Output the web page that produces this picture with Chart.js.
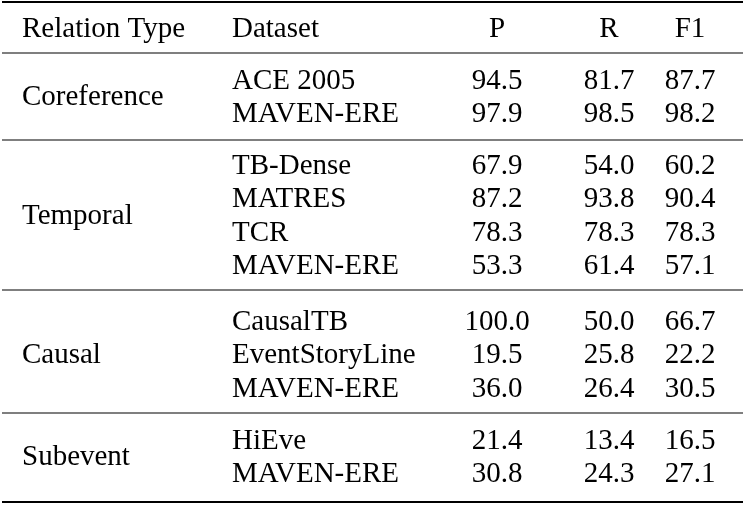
<!DOCTYPE html>
<html><head><meta charset="utf-8">
<script src="https://cdn.jsdelivr.net/npm/chart.js@4"></script>
<style>html,body{margin:0;padding:0;background:#fff}#w{width:745px;height:505px}</style>
</head><body><div id="w"><canvas id="c"></canvas></div>
<script>
const headers = ["Relation Type","Dataset","P","R","F1"];
const groups = ["Coreference","Temporal","Causal","Subevent"];
const groupSizes = [2,4,3,2];
const datasets = ["ACE 2005","MAVEN-ERE","TB-Dense","MATRES","TCR","MAVEN-ERE","CausalTB","EventStoryLine","MAVEN-ERE","HiEve","MAVEN-ERE"];
const P = [94.5,97.9,67.9,87.2,78.3,53.3,100.0,19.5,36.0,21.4,30.8];
const R = [81.7,98.5,54.0,93.8,78.3,61.4,50.0,25.8,26.4,13.4,24.3];
const F1 = [87.7,98.2,60.2,90.4,78.3,57.1,66.7,22.2,30.5,16.5,27.1];

// layout (in scale units, equal to pixels)
const colX = [22,232,497,609,690];
const colAlign = ["left","left","center","center","center"];
const headerY = 28, rowH = 33.6;
const groupStartY = [80,165,321,440];
const ruleY = [53,140,290,413];
const font = '29px "Liberation Serif", "Times New Roman", serif';

const tablePlugin = {
  id:'table',
  afterDraw(chart){
    const ctx = chart.ctx, xs = chart.scales.x, ys = chart.scales.y;
    const X = v=>xs.getPixelForValue(v), Y = v=>ys.getPixelForValue(v);
    ctx.save();
    ctx.fillStyle='#000'; ctx.strokeStyle='#000';
    ctx.font = font; ctx.textBaseline='middle';
    const text=(t,c,y)=>{ctx.textAlign=colAlign[c]; ctx.fillText(t,X(colX[c]),Y(y));};
    const rule=(y,w)=>{ctx.lineWidth=w;ctx.beginPath();ctx.moveTo(X(2),Y(y));ctx.lineTo(X(743),Y(y));ctx.stroke();};
    rule(2,2.2);
    headers.forEach((h,i)=>text(h,i,headerY+1));
    ruleY.forEach(y=>rule(y,1.2));
    let idx = 0;
    groups.forEach((g,gi)=>{
      const n = groupSizes[gi], y0 = groupStartY[gi];
      for(let k=0;k<n;k++){
        const y = y0 + k*rowH + 1;
        text(datasets[idx],1,y);
        text(P[idx].toFixed(1),2,y);
        text(R[idx].toFixed(1),3,y);
        text(F1[idx].toFixed(1),4,y);
        idx++;
      }
      text(g,0,y0 + (n-1)*rowH/2 + 1);
    });
    rule(502,2.2);
    ctx.restore();
  }
};

new Chart(document.getElementById('c'),{
  type:'scatter',
  data:{datasets:[{data:[]}]},
  options:{
    responsive:true, maintainAspectRatio:false, animation:false,
    layout:{padding:0},
    plugins:{legend:{display:false},tooltip:{enabled:false}},
    scales:{
      x:{type:'linear',min:0,max:745,display:false},
      y:{type:'linear',min:0,max:505,reverse:true,display:false}
    }
  },
  plugins:[tablePlugin]
});
</script></body></html>
